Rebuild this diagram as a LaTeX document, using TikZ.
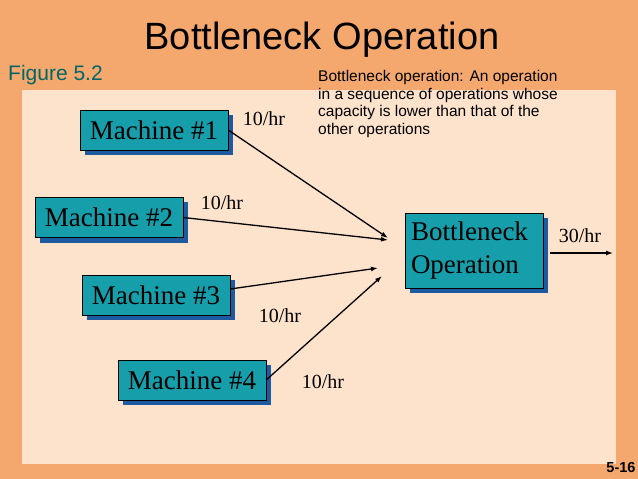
\documentclass[tikz,border=0pt]{standalone}
\usepackage{fontspec}
\setmainfont{Liberation Serif}
\setsansfont{Liberation Sans}
\begin{document}
\begin{tikzpicture}[x=1pt,y=-1pt,
  box/.style={draw=black,fill=boxc,font=\fontsize{27}{32}\selectfont,inner sep=0pt,minimum height=40pt,align=center},
  rate/.style={font=\fontsize{20}{22}\selectfont},
  arr/.style={-{Latex[length=7pt,width=5pt]},line width=1.3pt}]
\usetikzlibrary{arrows.meta}
\definecolor{bgo}{RGB}{244,168,110}
\definecolor{panel}{RGB}{253,226,204}
\definecolor{boxc}{RGB}{22,158,170}
\definecolor{shad}{RGB}{30,90,160}
\useasboundingbox (0,0) rectangle (638,479);
\fill[bgo] (0,0) rectangle (638,479);
\fill[panel] (22,90) rectangle (616,464);
\node (title) [font=\sffamily\fontsize{38}{42}\selectfont] at (322,40) {Bottleneck Operation};
\node (fig) [font=\sffamily\fontsize{21}{24}\selectfont, text=teal!80!black, anchor=west, inner sep=0pt] at (8,75) {Figure 5.2};
\node (def) [font=\sffamily\fontsize{15.5}{17.7}\selectfont, anchor=north west, align=left, inner sep=0pt] at (318,70) {Bottleneck operation: An operation\\in a sequence of operations whose\\capacity is lower than that of the\\other operations};
\foreach \x/\y/\w/\h in {80/110/148/40, 35/197/148/41, 82/275/148/40, 118/360/148/40, 405/213/138/75}
  \fill[shad] (\x+5,\y+5) rectangle (\x+\w+5,\y+\h+5);
\node (m1) [box,minimum width=148pt] at (154,130) {Machine \#1};
\node (m2) [box,minimum width=148pt] at (109,217.5) {Machine \#2};
\node (m3) [box,minimum width=148pt] at (156,295) {Machine \#3};
\node (m4) [box,minimum width=148pt] at (192,380) {Machine \#4};
\node (bn) [box,minimum width=138pt,minimum height=75pt,font=\fontsize{27}{33}\selectfont,text width=126pt,align=left] at (474,250.5) {Bottleneck\\Operation};
\coordinate (t1) at (388,238);
\coordinate (t2) at (388,240);
\coordinate (t3) at (378,268);
\coordinate (t4) at (382,276);
\coordinate (o1) at (550,253);
\coordinate (o2) at (613,253);
\draw[arr] (m1.east) -- (t1);
\draw[arr] (m2.east) -- (t2);
\draw[arr] ([yshift=6pt]m3.east) -- (t3);
\draw[arr] (m4.east) -- (t4);
\draw[arr] (o1) -- (o2);
\node (r1) [rate] at (264,119) {10/hr};
\node (r2) [rate] at (222,203) {10/hr};
\node (r3) [rate] at (280,316) {10/hr};
\node (r4) [rate] at (323,382) {10/hr};
\node (r5) [rate] at (580,236) {30/hr};
\node (pg) [font=\sffamily\bfseries\fontsize{14.5}{16}\selectfont] at (621,468) {5-16};
\end{tikzpicture}
\end{document}
